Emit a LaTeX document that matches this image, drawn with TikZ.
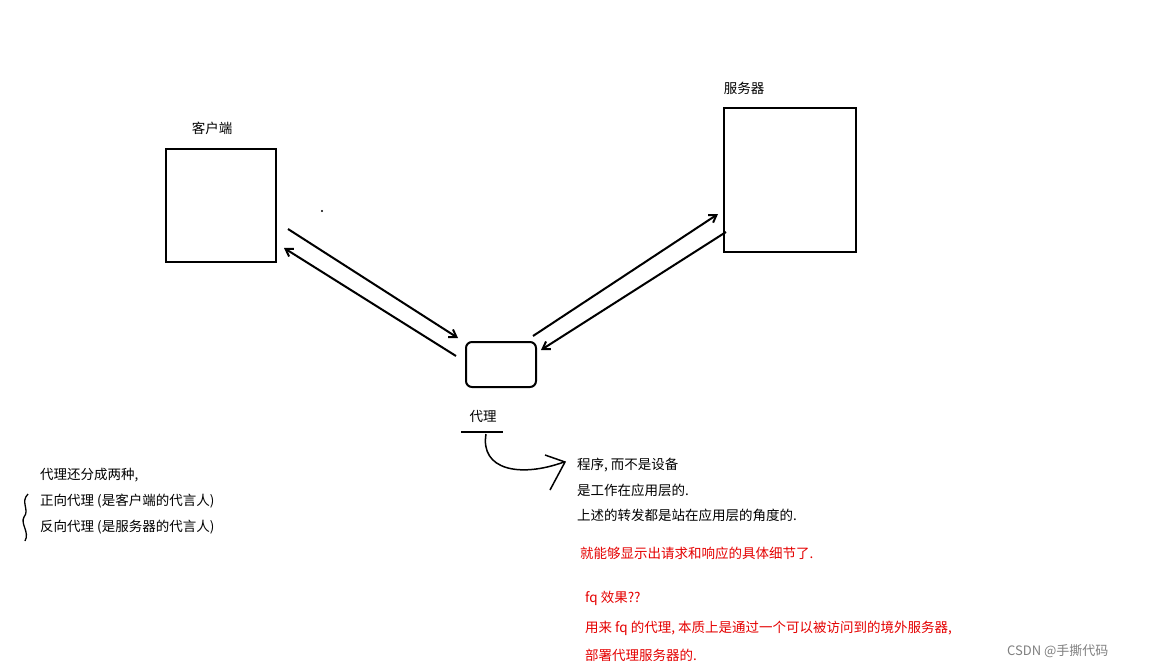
\documentclass[tikz,border=0pt]{standalone}
\usepackage{fontspec}
\setmainfont{Noto Sans CJK SC}
\usetikzlibrary{arrows.meta}
\begin{document}
\begin{tikzpicture}[x=1pt,y=-1pt,
  box/.style={draw,line width=2pt},
  lbl/.style={anchor=west,inner sep=0pt,font=\fontsize{13.5}{16}\selectfont},
  red/.style={lbl,text=red!90!black},
  arr/.style={line width=2pt,-{Straight Barb[length=7pt,width=9pt]}}]
\useasboundingbox (0,0) rectangle (1159,669);
\fill[white] (0,0) rectangle (1159,669);
\node[box,minimum width=110pt,minimum height=113pt,inner sep=0pt] (client) at (221,205.5) {};
\node[box,minimum width=132pt,minimum height=144pt,inner sep=0pt] (server) at (790,180) {};
\node[box,rounded corners=6pt,minimum width=70pt,minimum height=45pt,inner sep=0pt] (proxy) at (501,364.5) {};
\node[lbl,anchor=center] (lc) at (212,128) {客户端};
\node[lbl,anchor=center] (ls) at (744,88) {服务器};
\node[lbl,anchor=center] (lp) at (483,416) {代理};
\fill (322,211) circle (1.2pt);
\coordinate (a1) at (288,229); \coordinate (a2) at (458,338);
\coordinate (b1) at (456,356); \coordinate (b2) at (284,248);
\coordinate (c1) at (533,336); \coordinate (c2) at (718,214);
\coordinate (d1) at (726,232); \coordinate (d2) at (541,350);
\draw[arr] (a1) -- (a2);
\draw[arr] (b1) -- (b2);
\draw[arr] (c1) -- (c2);
\draw[arr] (d1) -- (d2);
\coordinate (u1) at (461,432); \coordinate (u2) at (503,432);
\draw[line width=1.5pt] (u1) -- (u2);
\draw[line width=1.5pt] (486,434) .. controls (480,470) and (520,478) .. (564,462);
\draw[line width=1.5pt] (545,455) -- (565,462) -- (550,490);
\node[lbl] (t1) at (577,465) {程序, 而不是设备};
\node[lbl] (t2) at (577,490) {是工作在应用层的.};
\node[lbl] (t3) at (577,515) {上述的转发都是站在应用层的角度的.};
\node[red] (r1) at (580,553) {就能够显示出请求和响应的具体细节了.};
\node[red] (r2) at (585,598) {fq 效果??};
\node[red] (r3) at (585,628) {用来 fq 的代理, 本质上是通过一个可以被访问到的境外服务器,};
\node[red] (r4) at (585,655) {部署代理服务器的.};
\node[lbl] (k1) at (40,475) {代理还分成两种,};
\node[lbl] (k2) at (40,501) {正向代理 (是客户端的代言人)};
\node[lbl] (k3) at (40,527) {反向代理 (是服务器的代言人)};
\draw[line width=1.3pt] (28,494) .. controls (20,502) and (30,510) .. (24,517) .. controls (20,524) and (30,532) .. (25,541);
\node[lbl,text=gray,font=\fontsize{13}{15}\selectfont] (w) at (1007,651) {CSDN @手撕代码};
\end{tikzpicture}
\end{document}
